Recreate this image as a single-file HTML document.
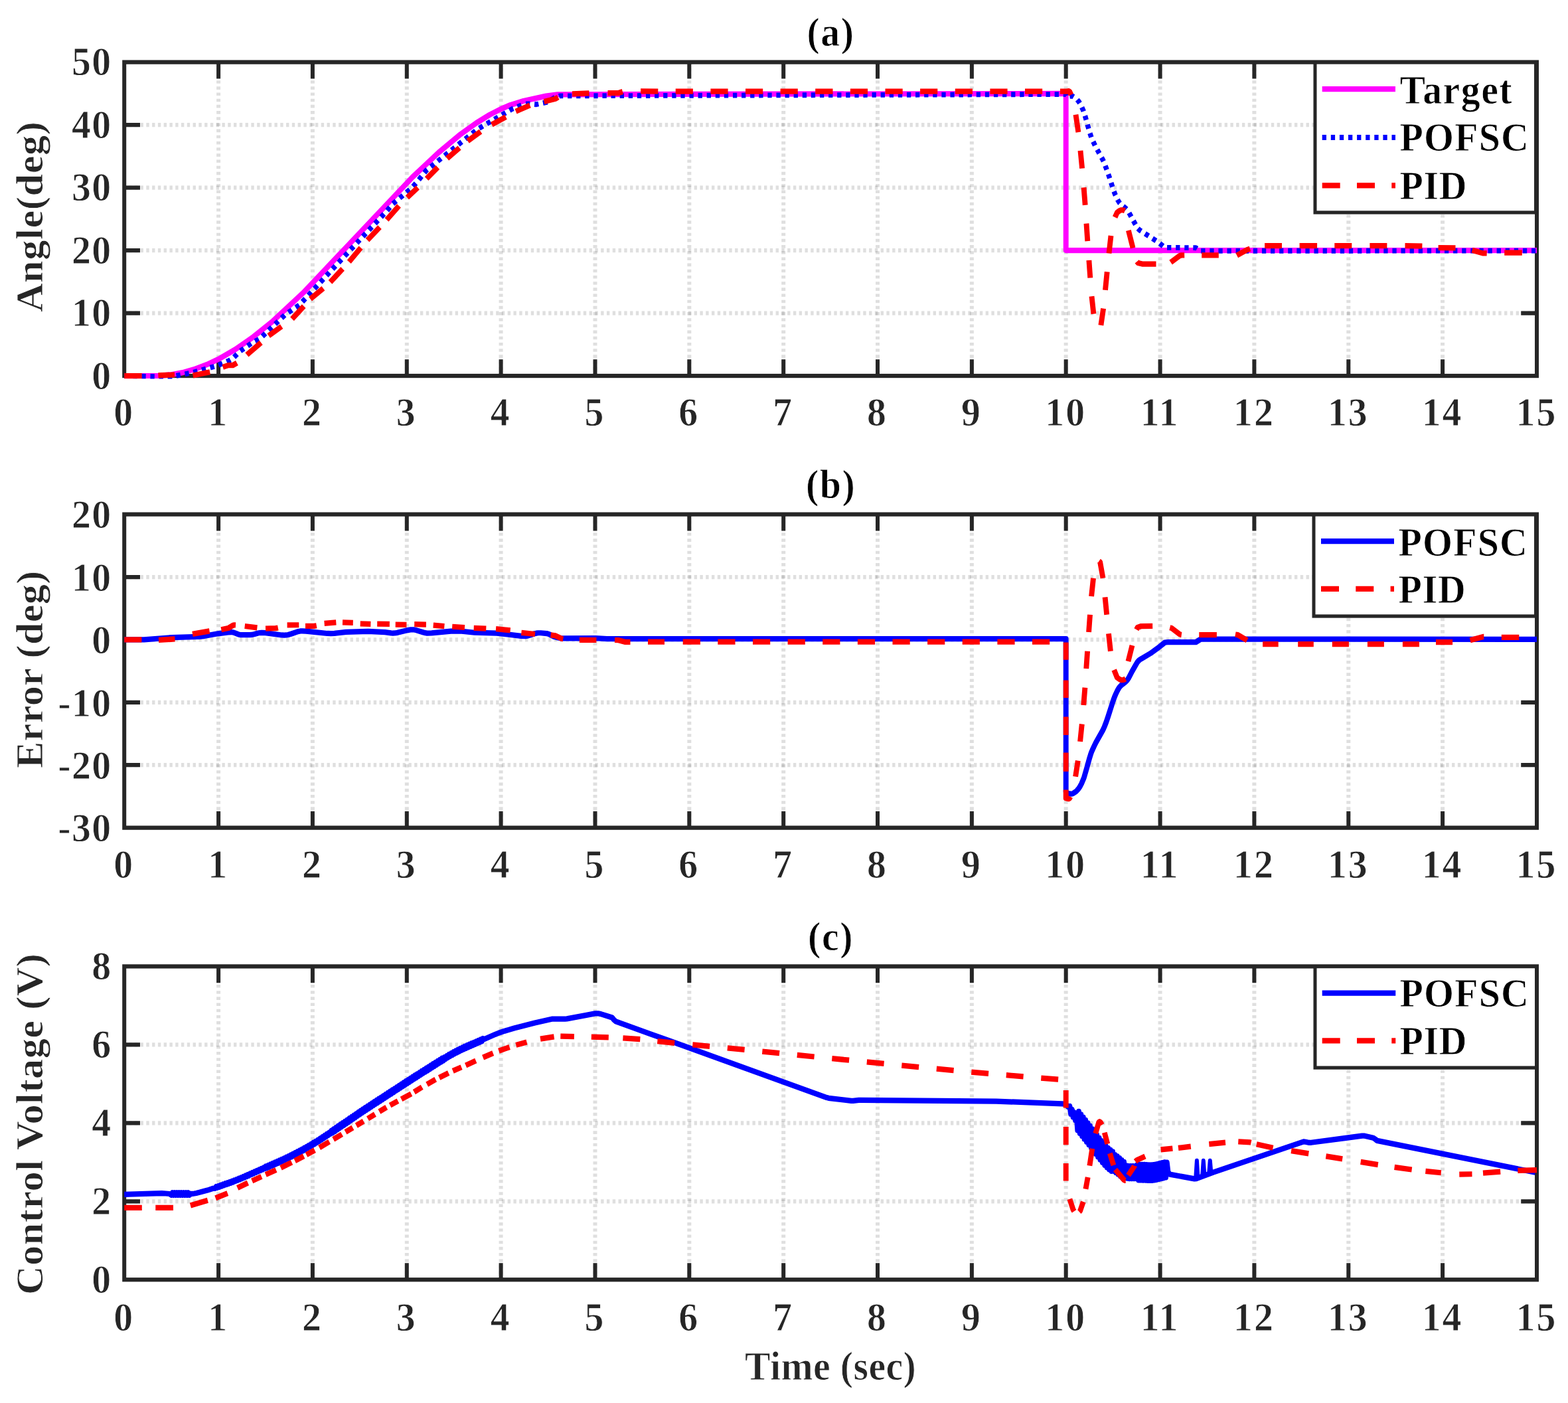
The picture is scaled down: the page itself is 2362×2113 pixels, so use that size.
<!DOCTYPE html>
<html lang="en">
<head>
<meta charset="utf-8">
<title>Angle tracking, error and control voltage: POFSC vs PID</title>
<style>
html,body{margin:0;padding:0;background:#fff;}
body{width:2362px;height:2113px;overflow:hidden;}
svg{display:block;}
text{font-family:"Liberation Serif",serif;font-weight:bold;font-size:57.80px;stroke:#ffffff;stroke-width:0.8px;stroke-linejoin:round;}
.tk{fill:#262626;}
.tt{fill:#000;}
</style>
</head>
<body>
<svg width="2362" height="2113" viewBox="0 0 2362 2113">
<rect x="0" y="0" width="2362" height="2113" fill="#ffffff"/>
<defs>
<clipPath id="clip0"><rect x="182.7" y="85.4" width="2136.8" height="461.4"/></clipPath>
<clipPath id="clip1"><rect x="182.7" y="738.1" width="2136.8" height="461"/></clipPath>
<clipPath id="clip2"><rect x="182.7" y="1390.6" width="2136.8" height="460.8"/></clipPath>
</defs>
<g transform="scale(1 1.0434)">
<g id="axes-a">
<path d="M329.1 89.7 V542.5 M470.9 89.7 V542.5 M612.8 89.7 V542.5 M754.6 89.7 V542.5 M896.5 89.7 V542.5 M1038.3 89.7 V542.5 M1180.2 89.7 V542.5 M1322 89.7 V542.5 M1463.9 89.7 V542.5 M1605.7 89.7 V542.5 M1747.6 89.7 V542.5 M1889.4 89.7 V542.5 M2031.3 89.7 V542.5 M2173.1 89.7 V542.5" fill="none" stroke="#262626" stroke-opacity="0.15" stroke-width="6" stroke-dasharray="4.4 4.4" stroke-dashoffset="0"/>
<path d="M187.2 451.9 H2315 M187.2 361.4 H2315 M187.2 270.8 H2315 M187.2 180.3 H2315" fill="none" stroke="#262626" stroke-opacity="0.15" stroke-width="6" stroke-dasharray="4.39 4.39" stroke-dashoffset="2"/>
<path d="M329.1 89.7 v23.8 M329.1 542.5 v-23.8 M470.9 89.7 v23.8 M470.9 542.5 v-23.8 M612.8 89.7 v23.8 M612.8 542.5 v-23.8 M754.6 89.7 v23.8 M754.6 542.5 v-23.8 M896.5 89.7 v23.8 M896.5 542.5 v-23.8 M1038.3 89.7 v23.8 M1038.3 542.5 v-23.8 M1180.2 89.7 v23.8 M1180.2 542.5 v-23.8 M1322 89.7 v23.8 M1322 542.5 v-23.8 M1463.9 89.7 v23.8 M1463.9 542.5 v-23.8 M1605.7 89.7 v23.8 M1605.7 542.5 v-23.8 M1747.6 89.7 v23.8 M1747.6 542.5 v-23.8 M1889.4 89.7 v23.8 M1889.4 542.5 v-23.8 M2031.3 89.7 v23.8 M2031.3 542.5 v-23.8 M2173.1 89.7 v23.8 M2173.1 542.5 v-23.8 M187.2 451.9 h23.8 M2315 451.9 h-23.8 M187.2 361.4 h23.8 M2315 361.4 h-23.8 M187.2 270.8 h23.8 M2315 270.8 h-23.8 M187.2 180.3 h23.8 M2315 180.3 h-23.8" fill="none" stroke="#262626" stroke-width="6"/>
<rect x="187.2" y="89.7" width="2127.8" height="452.8" fill="none" stroke="#262626" stroke-width="6"/>
<g clip-path="url(#clip0)" fill="none" stroke-width="7.9" stroke-linejoin="round">
<path d="M187.2 542.5 L241.1 542.3 L258.1 540.8 L275.1 537.8 L292.2 533.2 L312 526.1 L331.9 517 L354.6 504.3 L380.1 487.4 L411.3 463.3 L456.7 422.7 L621.3 255.8 L661 219.9 L692.2 195 L717.7 177.4 L737.6 165.7 L754.6 157.3 L768.8 151.6 L788.7 145.7 L822.7 138.6 L839.7 136.4 L1605.7 135 L1605.7 361.4 L2315 361.4" stroke="#ff00ff"/>
<path d="M187.2 542.5 L255.9 544.1 L289.5 537.9 L328.1 527.5 L344.7 520.7 L350.2 517.6 L361.8 506.8 L379.3 495.1 L391.6 488.9 L429.8 454 L451 440.2 L507.8 381.3 L582.6 304.6 L591.8 294.2 L619.9 271.6 L628.2 262.7 L642 246.1 L719 186.7 L771 157.5 L787.6 151.1 L791.7 150 L797.1 149.8 L807.9 150.7 L823.7 147.4 L827.6 145.5 L834.2 141.6 L843.4 138.4 L1605.7 136.1 L1607.2 140.5 L1608.6 139.6 L1610 139.1 L1614.2 138.6 L1615.7 138.9 L1619.8 141.3 L1622.5 143.7 L1625.2 146.8 L1627.8 150.9 L1631.8 159.4 L1634.5 167.2 L1641.4 190.9 L1644.1 198.7 L1649.6 210.3 L1661.2 230.5 L1663.8 236 L1670.5 254 L1677.4 274.7 L1680.2 281.6 L1684.1 289.3 L1686.7 293.2 L1689.5 295.9 L1695 300 L1697.8 302.7 L1700.3 306.3 L1711.6 326.1 L1714.1 329.8 L1716.7 332.2 L1743.9 349 L1754.7 357.3 L1801.5 357.7 L1808.6 362.1 L2315 361.9" stroke="#0000ff" stroke-width="7.5" stroke-dasharray="6.3 6.8" stroke-dashoffset="0"/>
<path d="M187.2 542.5 L213.6 542.5 M238.4 541.9 L263.1 540.9 M290.6 542 L316.2 536.9 M335.7 529.9 L343.8 527.2 L350.8 527.2 L356.9 523.8 M371.9 512.2 L393.2 494.5 M404.7 484.6 L424.1 471.2 M440 460.4 L457.7 441.9 M467.5 431.5 L486.9 416.2 M497.5 407.2 L516.1 388.1 M525.8 378 L543.5 357.6 M553.5 346.6 L572 327.9 M582.5 317.2 L601 297.1 M613.4 285.1 L629.3 270.7 M642.6 257.9 L659.4 241.5 M673.6 228.7 L692.1 213.3 M704.5 203.6 L724 189.8 M740.8 179.8 L762 168.8 M777 160.8 L798.3 151.9 M819.5 146.6 L836.9 142.5 L840.7 140.4 M862 135.5 L887.5 134.5 M915.5 134.4 L931.9 134.2 L937.9 132.3 M965.1 131.7 L991.3 131.8 M1017.7 131.8 L1043.9 131.8 M1070.4 131.8 L1096.6 131.8 M1123 131.8 L1149.2 131.8 M1175.6 131.8 L1201.8 131.8 M1228.2 131.8 L1254.5 131.8 M1280.9 131.8 L1307.1 131.8 M1333.5 131.8 L1359.7 131.8 M1386.1 131.8 L1412.3 131.8 M1438.8 131.8 L1465 131.8 M1491.4 131.8 L1517.6 131.8 M1544 131.8 L1570.2 131.8 M1597 131.8 L1605.7 131.8 L1606.4 132.1 L1610 131.4 L1611.2 132.2 L1613.5 136.8 M1620.5 165.5 L1624.4 190.9 M1627.5 217.5 L1630.1 243 M1632.6 270.6 L1634.7 296.1 M1636.5 322.6 L1638.3 348 M1640.4 375.7 L1642.3 401.1 M1644.5 427.6 L1647.4 453 M1658.4 469.6 L1662.1 445.3 M1665 418.7 L1667.7 392.3 M1670.5 365.7 L1673.5 340.2 M1679.6 313.7 L1682.8 306.8 L1686.7 303.9 L1689.3 303.1 L1692.8 303.5 L1694.5 304.2 M1699.9 332.5 L1706.6 358 M1712.7 377.5 L1714.3 379.5 L1720.6 381 L1741.5 381 M1763.6 378.6 L1777 369.2 L1779.1 368.5 L1784.2 368.4 M1810.2 368.4 L1835.8 368.4 M1863.2 368.7 L1878.7 360.5 L1883 359 M1905.1 354.8 L1931 354.8 M1957.6 354.8 L1984.1 354.8 M2010.3 354.8 L2036.3 354.8 M2063.4 354.8 L2089.4 354.8 M2116.5 354.8 L2142.4 355.1 M2166.6 357.7 L2192.5 357.9 M2217.6 361.1 L2233.5 365.5 L2239.7 365.6 M2266.2 364.7 L2292.8 364.7" stroke="#ff0000"/>
</g>
<rect x="1981" y="90.1" width="332.5" height="216.6" fill="#ffffff" stroke="#262626" stroke-width="5"/>
<path d="M1991.7 128.6 H2102" fill="none" stroke="#ff00ff" stroke-width="7.9"/>
<text class="tt" x="2108.5" y="149.1" letter-spacing="1.5">Target</text>
<path d="M1991.7 198.4 H2102" fill="none" stroke="#0000ff" stroke-width="7.5" stroke-dasharray="6.3 6.8" stroke-dashoffset="0"/>
<text class="tt" x="2108.5" y="217.2" letter-spacing="1.2">POFSC</text>
<path d="M1991.7 267.8 H2102" fill="none" stroke="#ff0000" stroke-width="7.9" stroke-dasharray="27 25.3"/>
<text class="tt" x="2108.5" y="287.9" letter-spacing="0.8">PID</text>
<text class="tk" x="185.7" y="614.3" text-anchor="middle" letter-spacing="0">0</text>
<text class="tk" x="327.6" y="614.3" text-anchor="middle" letter-spacing="0">1</text>
<text class="tk" x="469.4" y="614.3" text-anchor="middle" letter-spacing="0">2</text>
<text class="tk" x="611.3" y="614.3" text-anchor="middle" letter-spacing="0">3</text>
<text class="tk" x="753.1" y="614.3" text-anchor="middle" letter-spacing="0">4</text>
<text class="tk" x="895" y="614.3" text-anchor="middle" letter-spacing="0">5</text>
<text class="tk" x="1036.8" y="614.3" text-anchor="middle" letter-spacing="0">6</text>
<text class="tk" x="1178.7" y="614.3" text-anchor="middle" letter-spacing="0">7</text>
<text class="tk" x="1320.5" y="614.3" text-anchor="middle" letter-spacing="0">8</text>
<text class="tk" x="1462.4" y="614.3" text-anchor="middle" letter-spacing="0">9</text>
<text class="tk" x="1605.2" y="614.3" text-anchor="middle" letter-spacing="2">10</text>
<text class="tk" x="1747.1" y="614.3" text-anchor="middle" letter-spacing="2">11</text>
<text class="tk" x="1888.9" y="614.3" text-anchor="middle" letter-spacing="2">12</text>
<text class="tk" x="2030.8" y="614.3" text-anchor="middle" letter-spacing="2">13</text>
<text class="tk" x="2172.6" y="614.3" text-anchor="middle" letter-spacing="2">14</text>
<text class="tk" x="2314.5" y="614.3" text-anchor="middle" letter-spacing="2">15</text>
<text class="tk" x="168.7" y="561.4" text-anchor="end" letter-spacing="1.5">0</text>
<text class="tk" x="168.7" y="470.9" text-anchor="end" letter-spacing="1.5">10</text>
<text class="tk" x="168.7" y="380.3" text-anchor="end" letter-spacing="1.5">20</text>
<text class="tk" x="168.7" y="289.8" text-anchor="end" letter-spacing="1.5">30</text>
<text class="tk" x="168.7" y="199.2" text-anchor="end" letter-spacing="1.5">40</text>
<text class="tk" x="168.7" y="108.7" text-anchor="end" letter-spacing="1.5">50</text>
<text class="tt" x="1251.6" y="66.4" text-anchor="middle" letter-spacing="1.6">(a)</text>
<text class="tk" transform="translate(64 312.7) rotate(-90)" text-anchor="middle" letter-spacing="0.6">Angle(deg)</text>
</g>
<g id="axes-b">
<path d="M329.1 742.4 V1194.7 M470.9 742.4 V1194.7 M612.8 742.4 V1194.7 M754.6 742.4 V1194.7 M896.5 742.4 V1194.7 M1038.3 742.4 V1194.7 M1180.2 742.4 V1194.7 M1322 742.4 V1194.7 M1463.9 742.4 V1194.7 M1605.7 742.4 V1194.7 M1747.6 742.4 V1194.7 M1889.4 742.4 V1194.7 M2031.3 742.4 V1194.7 M2173.1 742.4 V1194.7" fill="none" stroke="#262626" stroke-opacity="0.15" stroke-width="6" stroke-dasharray="4.4 4.4" stroke-dashoffset="0"/>
<path d="M187.2 1104.3 H2315 M187.2 1013.8 H2315 M187.2 923.3 H2315 M187.2 832.9 H2315" fill="none" stroke="#262626" stroke-opacity="0.15" stroke-width="6" stroke-dasharray="4.39 4.39" stroke-dashoffset="2"/>
<path d="M329.1 742.4 v23.8 M329.1 1194.7 v-23.8 M470.9 742.4 v23.8 M470.9 1194.7 v-23.8 M612.8 742.4 v23.8 M612.8 1194.7 v-23.8 M754.6 742.4 v23.8 M754.6 1194.7 v-23.8 M896.5 742.4 v23.8 M896.5 1194.7 v-23.8 M1038.3 742.4 v23.8 M1038.3 1194.7 v-23.8 M1180.2 742.4 v23.8 M1180.2 1194.7 v-23.8 M1322 742.4 v23.8 M1322 1194.7 v-23.8 M1463.9 742.4 v23.8 M1463.9 1194.7 v-23.8 M1605.7 742.4 v23.8 M1605.7 1194.7 v-23.8 M1747.6 742.4 v23.8 M1747.6 1194.7 v-23.8 M1889.4 742.4 v23.8 M1889.4 1194.7 v-23.8 M2031.3 742.4 v23.8 M2031.3 1194.7 v-23.8 M2173.1 742.4 v23.8 M2173.1 1194.7 v-23.8 M187.2 1104.3 h23.8 M2315 1104.3 h-23.8 M187.2 1013.8 h23.8 M2315 1013.8 h-23.8 M187.2 923.3 h23.8 M2315 923.3 h-23.8 M187.2 832.9 h23.8 M2315 832.9 h-23.8" fill="none" stroke="#262626" stroke-width="6"/>
<rect x="187.2" y="742.4" width="2127.8" height="452.4" fill="none" stroke="#262626" stroke-width="6"/>
<g clip-path="url(#clip1)" fill="none" stroke-width="7.9" stroke-linejoin="round">
<path d="M187.2 923.3 L217 923.2 L258.7 920.2 L299.2 919.1 L307.5 918.2 L328.1 914.6 L343.4 912.8 L348.9 912.6 L350.2 912.6 L351.5 912.9 L354.1 913.7 L359.2 915.7 L360.5 916 L361.8 916.3 L376.6 916.4 L379.3 916.2 L383.4 915.3 L388.8 913.9 L391.6 913.4 L394.3 913.2 L399.8 913.5 L424.3 916.7 L428.4 916.9 L431.2 916.7 L434 916.2 L438.3 915 L446.8 912.2 L449.6 911.5 L452.5 910.9 L455.3 910.8 L461 911 L493 914.3 L498.4 914.5 L503.8 914.2 L521.3 912.2 L554.6 911.3 L580 912.6 L589.1 913.8 L591.8 913.9 L594.6 913.8 L598.8 913.2 L614.2 909.6 L618.5 909 L621.3 908.9 L624 909 L626.8 909.6 L637.9 912.9 L640.7 913.5 L643.4 913.9 L650.3 913.8 L679.2 911 L686.1 910.8 L695.7 911.2 L714.9 913.1 L748.5 914 L784.9 918 L790.4 918.3 L791.7 918.2 L794.4 917.8 L798.4 916.8 L805.2 914.6 L807.9 914 L810.6 913.6 L814.5 913.6 L823.7 914.5 L825 914.7 L826.3 915.1 L832.9 918.2 L834.2 918.8 L840.8 920.5 L843.4 921.1 L846.1 921.4 L897.3 921.1 L914.2 922 L1605.7 922.2 L1605.7 1143.2 L1608.6 1144.9 L1610 1145.4 L1613.2 1145.9 L1614.2 1145.9 L1615.7 1145.6 L1617.1 1144.9 L1619.8 1143.2 L1621.2 1142.1 L1622.5 1140.8 L1623.8 1139.4 L1625.2 1137.7 L1626.5 1135.9 L1627.8 1133.6 L1629.2 1131 L1631.8 1125.1 L1633.2 1121.5 L1637.2 1108.3 L1641.4 1093.7 L1642.8 1089.4 L1644.1 1085.8 L1645.5 1082.6 L1648.3 1076.8 L1650.8 1071.9 L1661.2 1054.1 L1662.5 1051.5 L1663.8 1048.6 L1666.5 1041.9 L1669.1 1034.6 L1674.7 1017.8 L1677.4 1009.9 L1678.8 1006.3 L1680.2 1003 L1682.8 997.7 L1684.1 995.3 L1685.4 993.2 L1686.7 991.5 L1688.1 990 L1689.5 988.7 L1695 984.6 L1696.4 983.4 L1697.8 982 L1699 980.3 L1700.3 978.4 L1705.2 969.3 L1711.6 958.5 L1712.8 956.6 L1714.1 954.9 L1715.4 953.5 L1716.7 952.5 L1719.4 950.8 L1733 943.1 L1743.9 935.6 L1754.7 927.4 L1760.1 926.8 L1801.5 926.9 L1808.6 922.6 L2315 922.8" stroke="#0000ff"/>
<path d="M187.2 923.3 L213.4 923.3 M239 923.8 L263.5 922.4 M290 915.2 L315.6 910.8 M333.3 908.8 L343.8 906.7 L350.8 902.7 L352.9 902.2 L355 902.3 M368.7 903.8 L387.4 906 M400 907.2 L415.3 906.8 L418.8 906.1 M432.6 902.2 L450.3 902.1 M460 903.6 L472.9 903.7 L476.8 903 M488.6 899.8 L506.3 898.4 M516 898.4 L531.8 898.9 M542.7 900.3 L558.4 900.8 M568.2 900.5 L586.9 900.7 M595.7 901.5 L612.4 901.7 M624.2 901.1 L641.9 901.4 M652.7 902.4 L669.4 903.8 M681.2 904.5 L700 905.7 M713.7 906.5 L732.3 907.3 M747 907.8 L768.7 909.8 M785.4 913.2 L806 915.3 M829.6 916.6 L836.9 917.6 L846 921.7 L848.3 922.1 M872.9 923.7 L898.4 923.9 M926 923.9 L931.9 924.1 L941.2 926.6 L949.5 926.7 M976 926.5 L1001 926.5 M1028.7 926.5 L1054.9 926.5 M1081.3 926.5 L1107.5 926.5 M1134 926.5 L1160.2 926.5 M1186.6 926.5 L1212.8 926.5 M1239.2 926.5 L1265.4 926.5 M1291.9 926.5 L1318.1 926.5 M1344.5 926.5 L1370.7 926.5 M1397.1 926.5 L1423.3 926.5 M1449.7 926.5 L1475.9 926.5 M1502.4 926.5 L1528.6 926.5 M1555 926.5 L1581.2 926.5 M1605.7 927.3 L1605.7 952.5 M1605.7 982 L1605.7 1007.3 M1605.7 1034.7 L1605.7 1061 M1605.7 1086.3 L1605.7 1113.7 M1605.7 1140 L1605.7 1152.2 L1610 1153.1 L1611.2 1152.3 L1612.5 1150 M1620.1 1121 L1623.8 1097.9 M1627.1 1070.4 L1629.8 1045.1 M1632.3 1017.8 L1634.4 992.5 M1636.3 965.1 L1638.1 939.9 M1640.1 912.4 L1642 887.2 M1644.1 860.8 L1647 834.6 M1655.5 810 L1657.1 811.1 L1661.5 834.6 M1664.6 861.9 L1667.2 887.2 M1670 914.6 L1672.9 939.9 M1678.2 967 L1682.8 977.9 L1686.7 980.7 L1689.3 981.6 L1692.8 981.2 L1695.5 979.9 M1699.5 954.6 L1705.5 931.5 M1712 908.8 L1713.6 905.7 L1719.2 903.8 L1736.2 903.6 M1762.3 905.9 L1765 906.6 L1777 915.5 L1779.1 916.2 L1779.8 916.3 M1806.3 916.3 L1832.9 916.3 M1860.9 915.7 L1864.6 916.4 L1878.6 924.2 M1902.1 929.8 L1925.7 929.8 M1955.2 929.8 L1978.8 929.8 M2006.8 929.8 L2031.9 929.8 M2059.9 929.8 L2084.9 929.8 M2112.9 929.8 L2138 929.8 M2163 926.9 L2188.1 926.9 M2214.6 924.2 L2234.2 919.1 L2235.3 919.1 M2261.8 920 L2288.3 920" stroke="#ff0000"/>
</g>
<rect x="1979" y="742.8" width="334.5" height="146.6" fill="#ffffff" stroke="#262626" stroke-width="5"/>
<path d="M1990 781.2 H2100" fill="none" stroke="#0000ff" stroke-width="7.9"/>
<text class="tt" x="2106.6" y="801.8" letter-spacing="1.2">POFSC</text>
<path d="M1990 850.1 H2100" fill="none" stroke="#ff0000" stroke-width="7.9" stroke-dasharray="27 25.3"/>
<text class="tt" x="2106.6" y="870.7" letter-spacing="0.8">PID</text>
<text class="tk" x="185.7" y="1267" text-anchor="middle" letter-spacing="0">0</text>
<text class="tk" x="327.6" y="1267" text-anchor="middle" letter-spacing="0">1</text>
<text class="tk" x="469.4" y="1267" text-anchor="middle" letter-spacing="0">2</text>
<text class="tk" x="611.3" y="1267" text-anchor="middle" letter-spacing="0">3</text>
<text class="tk" x="753.1" y="1267" text-anchor="middle" letter-spacing="0">4</text>
<text class="tk" x="895" y="1267" text-anchor="middle" letter-spacing="0">5</text>
<text class="tk" x="1036.8" y="1267" text-anchor="middle" letter-spacing="0">6</text>
<text class="tk" x="1178.7" y="1267" text-anchor="middle" letter-spacing="0">7</text>
<text class="tk" x="1320.5" y="1267" text-anchor="middle" letter-spacing="0">8</text>
<text class="tk" x="1462.4" y="1267" text-anchor="middle" letter-spacing="0">9</text>
<text class="tk" x="1605.2" y="1267" text-anchor="middle" letter-spacing="2">10</text>
<text class="tk" x="1747.1" y="1267" text-anchor="middle" letter-spacing="2">11</text>
<text class="tk" x="1888.9" y="1267" text-anchor="middle" letter-spacing="2">12</text>
<text class="tk" x="2030.8" y="1267" text-anchor="middle" letter-spacing="2">13</text>
<text class="tk" x="2172.6" y="1267" text-anchor="middle" letter-spacing="2">14</text>
<text class="tk" x="2314.5" y="1267" text-anchor="middle" letter-spacing="2">15</text>
<text class="tk" x="168.7" y="1214.7" text-anchor="end" letter-spacing="1.5">-30</text>
<text class="tk" x="168.7" y="1124.2" text-anchor="end" letter-spacing="1.5">-20</text>
<text class="tk" x="168.7" y="1033.7" text-anchor="end" letter-spacing="1.5">-10</text>
<text class="tk" x="168.7" y="943.3" text-anchor="end" letter-spacing="1.5">0</text>
<text class="tk" x="168.7" y="852.8" text-anchor="end" letter-spacing="1.5">10</text>
<text class="tk" x="168.7" y="762.3" text-anchor="end" letter-spacing="1.5">20</text>
<text class="tt" x="1251.6" y="719.1" text-anchor="middle" letter-spacing="1.6">(b)</text>
<text class="tk" transform="translate(64.3 966.2) rotate(-90)" text-anchor="middle" letter-spacing="0.3">Error (deg)</text>
</g>
<g id="axes-c">
<path d="M329.1 1394.9 V1847 M470.9 1394.9 V1847 M612.8 1394.9 V1847 M754.6 1394.9 V1847 M896.5 1394.9 V1847 M1038.3 1394.9 V1847 M1180.2 1394.9 V1847 M1322 1394.9 V1847 M1463.9 1394.9 V1847 M1605.7 1394.9 V1847 M1747.6 1394.9 V1847 M1889.4 1394.9 V1847 M2031.3 1394.9 V1847 M2173.1 1394.9 V1847" fill="none" stroke="#262626" stroke-opacity="0.15" stroke-width="6" stroke-dasharray="4.4 4.4" stroke-dashoffset="0"/>
<path d="M187.2 1734 H2315 M187.2 1621 H2315 M187.2 1507.9 H2315" fill="none" stroke="#262626" stroke-opacity="0.15" stroke-width="6" stroke-dasharray="4.39 4.39" stroke-dashoffset="2"/>
<path d="M329.1 1394.9 v23.8 M329.1 1847 v-23.8 M470.9 1394.9 v23.8 M470.9 1847 v-23.8 M612.8 1394.9 v23.8 M612.8 1847 v-23.8 M754.6 1394.9 v23.8 M754.6 1847 v-23.8 M896.5 1394.9 v23.8 M896.5 1847 v-23.8 M1038.3 1394.9 v23.8 M1038.3 1847 v-23.8 M1180.2 1394.9 v23.8 M1180.2 1847 v-23.8 M1322 1394.9 v23.8 M1322 1847 v-23.8 M1463.9 1394.9 v23.8 M1463.9 1847 v-23.8 M1605.7 1394.9 v23.8 M1605.7 1847 v-23.8 M1747.6 1394.9 v23.8 M1747.6 1847 v-23.8 M1889.4 1394.9 v23.8 M1889.4 1847 v-23.8 M2031.3 1394.9 v23.8 M2031.3 1847 v-23.8 M2173.1 1394.9 v23.8 M2173.1 1847 v-23.8 M187.2 1734 h23.8 M2315 1734 h-23.8 M187.2 1621 h23.8 M2315 1621 h-23.8 M187.2 1507.9 h23.8 M2315 1507.9 h-23.8" fill="none" stroke="#262626" stroke-width="6"/>
<rect x="187.2" y="1394.9" width="2127.8" height="452.2" fill="none" stroke="#262626" stroke-width="6"/>
<g clip-path="url(#clip2)" fill="none" stroke-width="7.9" stroke-linejoin="round">
<path d="M187.2 1724.1 L235.4 1722.5 L243.9 1722.4 L246.8 1722.5 L255.3 1723.2 L258.1 1725 L259.8 1721.6 L261.5 1725 L263.2 1721.6 L264.9 1725 L266.6 1721.6 L268.3 1725 L270 1721.6 L271.7 1725 L273.4 1721.6 L275.1 1725 L276.9 1721.6 L278.6 1725 L280.3 1721.6 L282 1725 L283.7 1721.6 L285.4 1725 L287.1 1723.2 L289.9 1723.1 L292.7 1722.7 L295.6 1722.2 L301.3 1720.9 L312.6 1718 L321.1 1715.3 L323.9 1715.4 L325.6 1712.8 L327.4 1714.3 L329.1 1711.7 L330.8 1713.2 L332.5 1710.6 L334.2 1712 L335.9 1709.5 L337.6 1710.9 L339.3 1708.3 L341 1709.8 L342.7 1707.2 L344.4 1708.7 L346.1 1706.1 L347.8 1707.5 L349.5 1704.9 L351.2 1706.3 L352.9 1703.6 L354.6 1705 L356.3 1702.4 L358 1703.8 L359.7 1701.1 L361.4 1702.4 L363.1 1699.7 L364.8 1701.1 L366.5 1698.4 L368.2 1699.7 L369.9 1697 L371.6 1698.3 L373.3 1695.5 L375 1696.9 L376.7 1694.1 L378.4 1695.4 L380.1 1692.7 L381.8 1694 L383.5 1691.2 L385.2 1692.5 L386.9 1689.8 L388.6 1691.1 L390.3 1688.3 L392 1689.6 L393.7 1686.9 L395.4 1688.2 L397.1 1685.4 L398.8 1686.7 L400.5 1683.4 L402.2 1685.9 L404 1682 L405.7 1684.5 L407.4 1680.6 L409.1 1683 L410.8 1679.2 L412.5 1681.6 L414.2 1677.7 L415.9 1680.2 L417.6 1676.3 L419.3 1678.7 L421 1674.9 L422.7 1677.3 L424.4 1673.4 L426.1 1675.8 L427.8 1671.9 L429.5 1674.3 L431.2 1670.4 L432.9 1672.8 L434.6 1668.8 L436.3 1671.2 L438 1667.2 L439.7 1669.6 L441.4 1665.6 L443.1 1667.9 L444.8 1663.9 L446.5 1666.3 L448.2 1662.2 L449.9 1664.5 L451.6 1660.5 L453.3 1662.8 L455 1658.7 L456.7 1661 L458.4 1656.9 L460.1 1659.2 L461.8 1655.1 L463.5 1657.3 L465.2 1653.2 L466.9 1655.4 L468.6 1651.3 L470.3 1653.5 L472 1649.3 L473.7 1651.5 L475.4 1647.4 L477.1 1649.5 L478.9 1645.3 L480.6 1647.5 L482.3 1643.3 L484 1645.4 L485.7 1641.1 L487.4 1643.2 L489.1 1639 L490.8 1641.1 L492.5 1636.8 L494.2 1638.9 L495.9 1634.7 L497.6 1636.8 L499.3 1631.8 L501 1635.3 L502.7 1629.7 L504.4 1633.1 L506.1 1627.5 L507.8 1630.9 L509.5 1625.3 L511.2 1628.7 L512.9 1623.1 L514.6 1626.5 L516.3 1620.9 L518 1624.3 L519.7 1618.7 L521.4 1622.1 L523.1 1616.5 L524.8 1619.9 L526.5 1614.2 L528.2 1617.6 L529.9 1612 L531.6 1615.4 L533.3 1609.8 L535 1613.2 L536.7 1607.6 L538.4 1611 L540.1 1605.3 L541.8 1608.8 L543.5 1603.1 L545.2 1606.6 L546.9 1601 L548.6 1604.4 L550.3 1598.8 L552 1602.2 L553.7 1596.6 L555.5 1600.1 L557.2 1594.5 L558.9 1598 L560.6 1592.4 L562.3 1595.8 L564 1590.2 L565.7 1593.7 L567.4 1588.1 L569.1 1591.6 L570.8 1586 L572.5 1589.5 L574.2 1583.9 L575.9 1587.3 L577.6 1581.8 L579.3 1585.2 L581 1579.6 L582.7 1583.1 L584.4 1577.5 L586.1 1581 L587.8 1575.4 L589.5 1578.9 L591.2 1573.3 L592.9 1576.8 L594.6 1571.2 L596.3 1574.6 L598 1569.1 L599.7 1572.5 L601.4 1566.9 L603.1 1570.4 L604.8 1564.8 L606.5 1568.3 L608.2 1562.7 L609.9 1566.2 L611.6 1560.6 L613.3 1564.1 L615 1558.5 L616.7 1562 L618.4 1556.4 L620.1 1559.9 L621.8 1554.3 L623.5 1557.8 L625.2 1552.2 L626.9 1555.7 L628.6 1550.1 L630.3 1553.6 L632.1 1548 L633.8 1551.5 L635.5 1546 L637.2 1549.4 L638.9 1543.9 L640.6 1547.4 L642.3 1541.8 L644 1545.4 L645.7 1539.8 L647.4 1543.3 L649.1 1537.8 L650.8 1541.2 L652.5 1535.7 L654.2 1539.2 L655.9 1533.6 L657.6 1537.1 L659.3 1531.6 L661 1535 L662.7 1529.5 L664.4 1533 L666.1 1527.5 L667.8 1531 L669.5 1525.9 L671.2 1528.6 L672.9 1524 L674.6 1526.6 L676.3 1522 L678 1524.7 L679.7 1520.2 L681.4 1522.9 L683.1 1518.4 L684.8 1521.1 L686.5 1516.7 L688.2 1519.5 L689.9 1515 L691.6 1517.8 L693.3 1513.4 L695 1516.2 L696.7 1511.9 L698.4 1514.7 L700.1 1510.3 L701.8 1513.2 L703.5 1508.9 L705.2 1511.8 L707 1507.4 L708.7 1510.3 L710.4 1506 L712.1 1508.9 L713.8 1504.6 L715.5 1507.5 L717.2 1503.2 L718.9 1506.1 L720.6 1501.8 L722.3 1504.7 L724 1500.4 L725.7 1503.3 L727.4 1499 L729.1 1500.1 L746.1 1493 L751.8 1490.8 L760.3 1488.1 L774.5 1484.1 L805.7 1476.5 L831.2 1470.9 L851.1 1470.8 L853.9 1470.6 L896.5 1462.9 L902.1 1462.9 L905 1463.6 L922 1468.7 L924.8 1472 L927.7 1474.4 L978.7 1492.2 L1009.9 1502.6 L1245.4 1584.3 L1248.3 1585 L1282.3 1588.9 L1285.1 1588.9 L1293.7 1588 L1296.5 1587.9 L1500.8 1589.6 L1600.1 1593.2 L1602.9 1593.4 L1605.7 1593.8 L1608.6 1597.5 L1611.4 1596.7 L1613.1 1608 L1614.8 1601.2 L1616.5 1612.5 L1618.2 1605.6 L1619.9 1616.9 L1621.6 1610.1 L1623.3 1631.5 L1625 1604.2 L1626.7 1635.8 L1628.4 1608.5 L1630.1 1639.9 L1631.8 1612.6 L1633.5 1644.1 L1635.2 1616.7 L1636.9 1648.2 L1638.6 1620.9 L1640.3 1652.4 L1642 1625.2 L1643.8 1656.7 L1645.5 1629.6 L1647.2 1661.2 L1648.9 1634 L1650.6 1665.5 L1652.3 1638.3 L1654 1669.8 L1655.7 1642.5 L1657.4 1673.9 L1659.1 1646.6 L1660.8 1678 L1662.5 1650.6 L1664.2 1681.9 L1665.9 1654.2 L1667.6 1685.2 L1669.3 1657.2 L1671 1688 L1672.7 1659.9 L1674.4 1690.4 L1676.1 1662.2 L1677.8 1690.5 L1679.5 1666.7 L1681.2 1692.7 L1682.9 1669 L1684.6 1695.1 L1686.3 1671.6 L1688 1697.8 L1689.7 1674.4 L1691.4 1700.6 L1693.1 1677 L1694.8 1699.5 L1696.5 1682.3 L1698.2 1700.9 L1699.9 1683.1 L1701.6 1701.2 L1703.3 1683.1 L1705 1701.2 L1706.7 1683.1 L1708.4 1701.2 L1710.1 1683.1 L1711.8 1701.2 L1713.5 1680.9 L1715.2 1703.5 L1716.9 1680.9 L1718.6 1703.5 L1720.4 1680.9 L1722.1 1703.6 L1723.8 1681 L1725.5 1703.7 L1727.2 1681.2 L1728.9 1703.9 L1730.6 1681.4 L1732.3 1704 L1734 1681.4 L1735.7 1703.9 L1737.4 1681.1 L1739.1 1703.5 L1740.8 1680.6 L1742.5 1702.9 L1744.2 1679.9 L1745.9 1702.1 L1747.6 1679.1 L1749.3 1701.3 L1751 1678.3 L1752.7 1700.5 L1754.4 1677.5 L1756.1 1699.7 L1757.8 1677.9 L1759.5 1691.7 L1762.3 1695.1 L1799.2 1701.5 L1802.1 1701.2 L1827.6 1692.2 L1963.8 1647.9 L1966.6 1648.2 L1972.3 1649.4 L1975.1 1649.2 L2051.7 1639.5 L2054.6 1639.4 L2068.7 1642.4 L2071.6 1644.3 L2074.4 1646.4 L2312.7 1692.3" stroke="#0000ff"/>
<path d="M1801.2 1700.9 L1802.9 1675.2 L1804.6 1700.9" stroke="#0000ff" stroke-width="6"/>
<path d="M1811.1 1697.4 L1812.8 1675.2 L1814.5 1697.4" stroke="#0000ff" stroke-width="6"/>
<path d="M1821.1 1693.9 L1822.8 1675.2 L1824.5 1693.9" stroke="#0000ff" stroke-width="6"/>
<path d="M187.2 1743.2 L213.8 1743.2 M234.3 1743.2 L261 1743.2 M286.9 1739.9 L312.9 1732.6 M324.7 1729.3 L342.8 1722.3 M357.7 1714.6 L373.4 1707.3 M379.7 1704.5 L393.9 1698.2 M400.2 1695.4 L415.9 1688.7 M423 1685.6 L439.5 1677.8 M444.2 1675.5 L457.6 1668.8 M461.5 1666.8 L474.1 1660.2 M481.1 1656.4 L496.1 1648 M502.2 1644.5 L515.1 1637.2 M520.5 1634 L531.4 1627.7 M536.8 1624.6 L547.6 1618.4 M554 1614.7 L564.9 1608.3 M571.4 1604.5 L582.2 1598.3 M587.6 1595.3 L599.5 1589.1 M604.6 1586.6 L619.5 1578.8 M623.8 1576.2 L635.7 1569.2 M643.2 1565.1 L656.2 1558.1 M661.6 1555.4 L675.7 1548.7 M682.2 1545.8 L695.1 1540.4 M701.6 1537.7 L716.8 1531.1 M727.6 1526.4 L742.7 1520.2 M751.4 1516.9 L767.6 1511.4 M777.3 1508.4 L793.5 1504.2 M814 1499.6 L834.6 1496.4 M844.3 1495.7 L864.9 1496.3 M890.8 1496.7 L916.8 1497.4 M938.4 1498.3 L964.3 1500.1 M990.3 1502.9 L1016.2 1505.5 M1043.3 1507.9 L1069.1 1510.3 M1095.8 1512.8 L1121.6 1515.2 M1148.3 1517.7 L1174.1 1520.2 M1200.8 1522.8 L1226.6 1525.3 M1253.3 1527.8 L1279.1 1530.3 M1305.8 1532.9 L1331.6 1535.3 M1358.3 1537.8 L1384.1 1540.2 M1410.8 1542.7 L1436.6 1545 M1463.3 1547.4 L1489.1 1549.6 M1515.8 1551.8 L1541.6 1553.9 M1568.3 1556 L1594.1 1558 M1605.7 1573.8 L1605.7 1599.2 M1605.7 1626.5 L1605.7 1652.6 M1605.7 1679.2 L1605.7 1704.6 M1611.4 1730.6 L1616.5 1745.9 L1618.1 1748.4 M1625.7 1749 L1627.2 1747.6 L1631.8 1734.7 M1635.5 1716.2 L1638.7 1699.2 M1641.4 1682.7 L1645.3 1658 M1650.3 1636.1 L1655.1 1620.3 L1655.8 1619.3 L1656.4 1619 L1657.6 1619.7 L1660 1623.7 M1663.8 1634.8 L1668.3 1651.2 M1671.9 1664.8 L1677.4 1682 M1680 1688.1 L1693.1 1703.1 L1695 1704 L1695.7 1704 M1699.6 1696.4 L1708.9 1683.1 L1709 1682.7 M1710.3 1676.5 L1713 1674.3 L1725 1669 M1748.6 1659.4 L1766.4 1657.6 M1775 1657 L1793.8 1654.8 M1821.3 1651.4 L1846 1649.1 M1865.3 1647.9 L1883.3 1648.9 L1884.6 1649.2 M1892.8 1651.5 L1917.6 1656.8 M1945.1 1661.1 L1971.3 1665.1 M1997.4 1669 L2022.2 1672.8 M2049.7 1677.1 L2075.8 1681.1 M2100.6 1684.8 L2126.7 1688.2 M2147.4 1690.5 L2170.8 1692.8 M2198.3 1695 L2217.5 1694.7 M2234 1693.2 L2260.2 1691.2 M2286.3 1689.6 L2315 1688.8" stroke="#ff0000"/>
</g>
<rect x="1981" y="1395.1" width="333.5" height="146.1" fill="#ffffff" stroke="#262626" stroke-width="5"/>
<path d="M1991.7 1433.4 H2102.3" fill="none" stroke="#0000ff" stroke-width="7.9"/>
<text class="tt" x="2108.5" y="1452.6" letter-spacing="1.2">POFSC</text>
<path d="M1991.7 1502.2 H2102.3" fill="none" stroke="#ff0000" stroke-width="7.9" stroke-dasharray="27 25.3"/>
<text class="tt" x="2108.5" y="1521.5" letter-spacing="0.8">PID</text>
<text class="tk" x="185.7" y="1920.5" text-anchor="middle" letter-spacing="0">0</text>
<text class="tk" x="327.6" y="1920.5" text-anchor="middle" letter-spacing="0">1</text>
<text class="tk" x="469.4" y="1920.5" text-anchor="middle" letter-spacing="0">2</text>
<text class="tk" x="611.3" y="1920.5" text-anchor="middle" letter-spacing="0">3</text>
<text class="tk" x="753.1" y="1920.5" text-anchor="middle" letter-spacing="0">4</text>
<text class="tk" x="895" y="1920.5" text-anchor="middle" letter-spacing="0">5</text>
<text class="tk" x="1036.8" y="1920.5" text-anchor="middle" letter-spacing="0">6</text>
<text class="tk" x="1178.7" y="1920.5" text-anchor="middle" letter-spacing="0">7</text>
<text class="tk" x="1320.5" y="1920.5" text-anchor="middle" letter-spacing="0">8</text>
<text class="tk" x="1462.4" y="1920.5" text-anchor="middle" letter-spacing="0">9</text>
<text class="tk" x="1605.2" y="1920.5" text-anchor="middle" letter-spacing="2">10</text>
<text class="tk" x="1747.1" y="1920.5" text-anchor="middle" letter-spacing="2">11</text>
<text class="tk" x="1888.9" y="1920.5" text-anchor="middle" letter-spacing="2">12</text>
<text class="tk" x="2030.8" y="1920.5" text-anchor="middle" letter-spacing="2">13</text>
<text class="tk" x="2172.6" y="1920.5" text-anchor="middle" letter-spacing="2">14</text>
<text class="tk" x="2314.5" y="1920.5" text-anchor="middle" letter-spacing="2">15</text>
<text class="tk" x="168.7" y="1866" text-anchor="end" letter-spacing="1.5">0</text>
<text class="tk" x="168.7" y="1753" text-anchor="end" letter-spacing="1.5">2</text>
<text class="tk" x="168.7" y="1639.9" text-anchor="end" letter-spacing="1.5">4</text>
<text class="tk" x="168.7" y="1526.9" text-anchor="end" letter-spacing="1.5">6</text>
<text class="tk" x="168.7" y="1413.8" text-anchor="end" letter-spacing="1.5">8</text>
<text class="tt" x="1251.6" y="1371.6" text-anchor="middle" letter-spacing="1.6">(c)</text>
<text class="tk" transform="translate(64.3 1622.4) rotate(-90)" text-anchor="middle" letter-spacing="0.5">Control Voltage (V)</text>
</g>
<text class="tk" x="1251.1" y="1991.6" text-anchor="middle" letter-spacing="0.4">Time (sec)</text>
</g>
</svg>
</body>
</html>
